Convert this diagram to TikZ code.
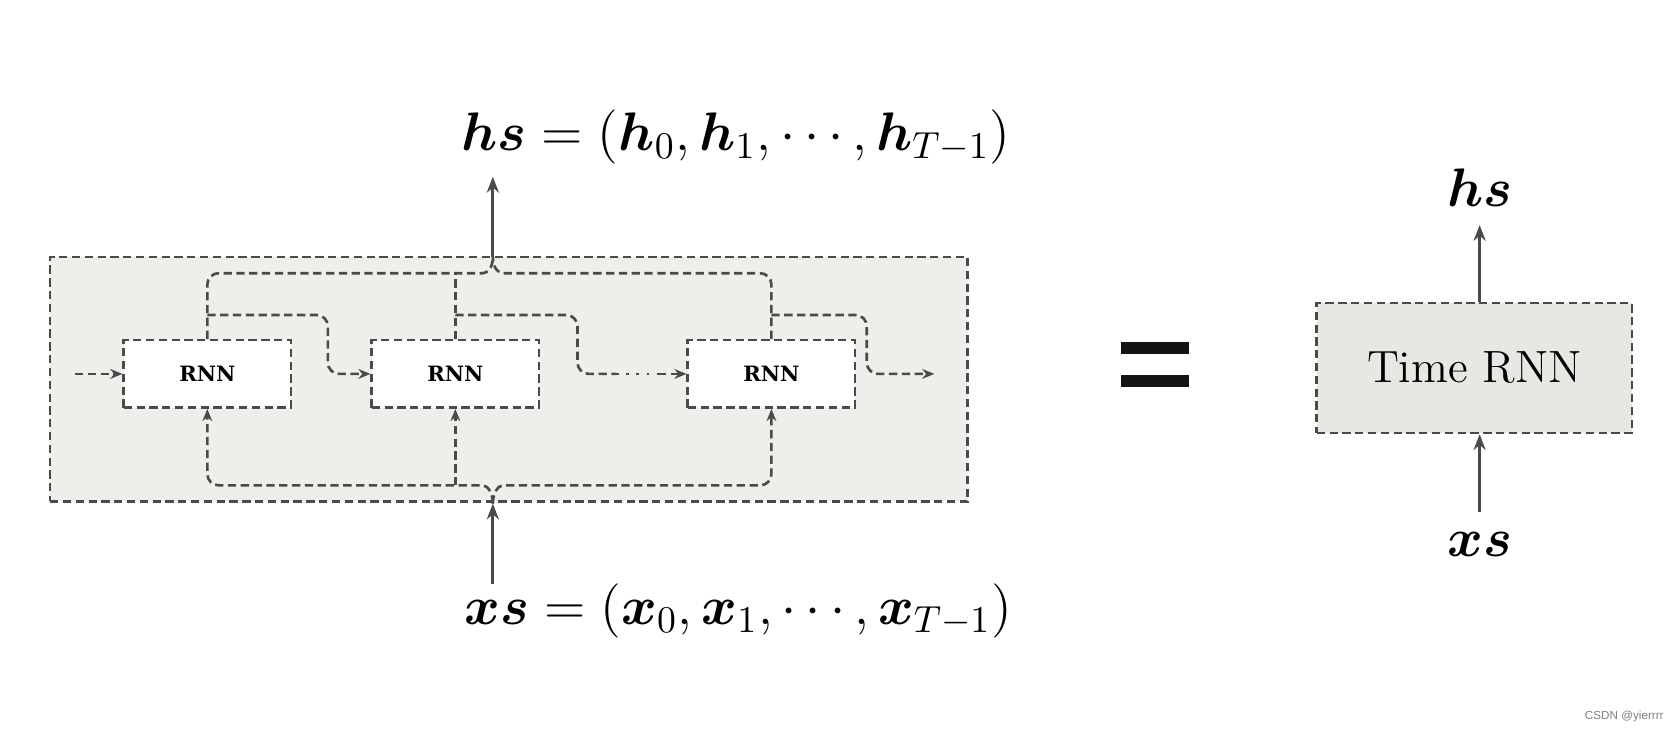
\documentclass[tikz,border=0pt]{standalone}
\usepackage{fontspec}
\usepackage{bm}
\usetikzlibrary{arrows.meta}
\newfontfamily\slabfont{DejaVu Serif}
\newfontfamily\markfont{Liberation Sans}

\begin{document}
\begin{tikzpicture}[x=0.01cm, y=-0.01cm]
    \definecolor{C0}{HTML}{4A4A4A}
    \definecolor{C1}{HTML}{EDF0EA}
    \definecolor{C2}{HTML}{E6E8E3}

    \tikzset{
        flow/.style={draw=C0, line width=0.7pt, dash pattern=on 2.2pt off 1.2pt, rounded corners=3},
        tip/.style={-{Stealth[length=3.2pt, width=2.6pt]}},
        bigtip/.style={draw=C0, line width=0.8pt, -{Stealth[length=4.2pt, width=3.2pt]}},
        rnnbox/.style={draw=C0, line width=0.7pt, dash pattern=on 2.2pt off 1.2pt, fill=white,
            minimum width=1.56cm, minimum height=0.63cm, font=\slabfont\bfseries\fontsize{5.6}{7}\selectfont},
        label/.style={font=\fontsize{14.6}{17}\selectfont, inner sep=0pt}
    }

    \fill[white] (0,0) rectangle (1568,685);
    \useasboundingbox (0,0) rectangle (1568,685);

    % Time RNN layer, unrolled
    \node[draw=C0, fill=C1, line width=0.7pt, dash pattern=on 2.2pt off 1.2pt,
        minimum width=8.56cm, minimum height=2.28cm] (layer) at (475,354) {};

    \node[rnnbox] (rnn1) at (193.5,349) {RNN};
    \node[rnnbox] (rnn2) at (425,349) {RNN};
    \node[rnnbox] (rnn3) at (720,349) {RNN};

    \coordinate (rin) at (70,349);
    \coordinate (rout) at (872,349);
    \coordinate (gapa) at (575,349);
    \coordinate (gapb) at (614,349);
    \coordinate (rec) at (0,294);
    \coordinate (hbus) at (0,255);
    \coordinate (xbus) at (0,453);
    \coordinate (hjoin) at (460,240);
    \coordinate (htop) at (460,165);
    \coordinate (xjoin) at (460,470);
    \coordinate (xbot) at (460,545);

    % hidden state passed along
    \path[flow, tip] (rin) -- (rnn1.west);
    \path[flow, tip] (rnn1.north |- rec) -- (306,294) |- (rnn2.west);
    \path[flow] (rnn2.north |- rec) -- (539,294) |- (gapa);
    \path[draw=C0, line width=0.7pt, dotted] (gapa) -- (gapb);
    \path[flow, tip] (gapb) -- (rnn3.west);
    \path[flow, tip] (rnn3.north |- rec) -- (809,294) |- (rout);

    % outputs hs
    \path[flow] (rnn1.north) |- (440,255) .. controls (455,255) and (460,250) .. (hjoin);
    \path[flow] (rnn3.north) |- (480,255) .. controls (465,255) and (460,250) .. (hjoin);
    \path[flow] (rnn2.north) -- (rnn2.north |- hbus);
    \path[bigtip] (hjoin) -- (htop);

    % inputs xs
    \path[flow, tip] (xjoin) .. controls (460,460) and (455,453) .. (440,453) -| (rnn1.south);
    \path[flow, tip] (xjoin) .. controls (460,460) and (465,453) .. (480,453) -| (rnn3.south);
    \path[flow, tip] (rnn2.south |- xbus) -- (rnn2.south);
    \path[bigtip] (xbot) -- (xjoin);

    \node[label, anchor=west] (hsall) at (430,128) {$\bm{h}\bm{s} = (\bm{h}_0, \bm{h}_1, \cdots, \bm{h}_{T-1})$};
    \node[label, anchor=west] (xsall) at (433,570) {$\bm{x}\bm{s} = (\bm{x}_0, \bm{x}_1, \cdots, \bm{x}_{T-1})$};

    % equals
    \fill[black!92] (1046,319) rectangle (1110,330);
    \fill[black!92] (1046,350) rectangle (1110,361);

    % Time RNN layer, folded
    \node[draw=C0, fill=C2, line width=0.7pt, dash pattern=on 2.2pt off 1.2pt,
        minimum width=2.94cm, minimum height=1.21cm, font=\fontsize{12}{14}\selectfont] (timernn) at (1376,343.5) {Time RNN};

    \node[label] (hs) at (1381,175) {$\bm{h}\bm{s}$};
    \node[label] (xs) at (1381,508) {$\bm{x}\bm{s}$};
    \coordinate (tin) at (1381,478);
    \coordinate (tout) at (1381,210);

    \path[bigtip] (timernn.north -| tout) -- (tout);
    \path[bigtip] (tin) -- (timernn.south -| tin);

    \node[font=\markfont\fontsize{3.1}{4}\selectfont, text=gray] (mark) at (1516,669) {CSDN @yierrrr};

\end{tikzpicture}
\end{document}
